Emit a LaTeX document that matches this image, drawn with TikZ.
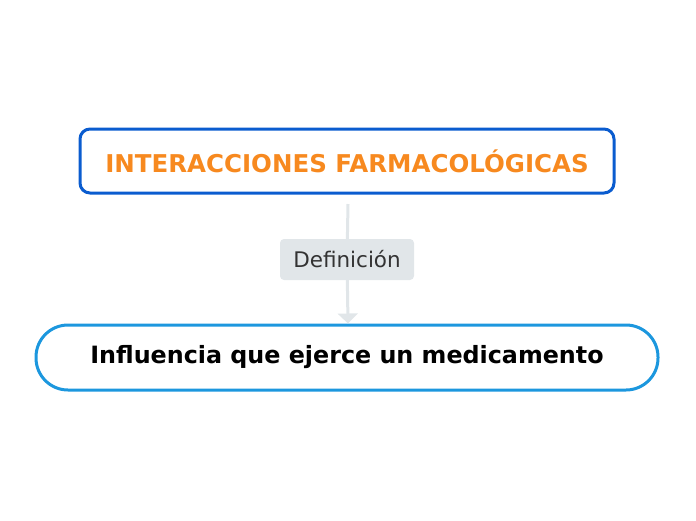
\documentclass[tikz,border=0pt]{standalone}
\usepackage{fontspec}
\setmainfont{DejaVu Sans}
\usetikzlibrary{positioning,arrows.meta}
\definecolor{topblue}{HTML}{0A5CCF}
\definecolor{subblue}{HTML}{1C97DE}
\definecolor{titleorange}{HTML}{F7891F}
\definecolor{linkgray}{HTML}{E1E6E9}
\definecolor{labeltext}{HTML}{333333}
\begin{document}
\begin{tikzpicture}[x=1pt,y=-1pt]
\tikzset{topic/.style={draw=topblue, line width=3pt, rectangle, rounded corners=10pt,
  minimum width=534pt, minimum height=64pt, font=\fontsize{24.5}{28}\selectfont\bfseries, text=titleorange},
  subtopic/.style={draw=subblue, line width=3pt, rectangle, rounded corners=32pt,
  minimum width=622pt, minimum height=65pt, font=\fontsize{23.8}{28}\selectfont\bfseries},
  linklabel/.style={fill=linkgray, rectangle, rounded corners=4pt, minimum width=134pt,
  minimum height=41pt, text=labeltext, font=\fontsize{21.5}{25}\selectfont}}

\useasboundingbox (0,0) rectangle (696,520);

% Main topic and sub topic
\node[topic] (inter) at (347,161) {INTERACCIONES FARMACOLÓGICAS};
\node[subtopic] (influ) at (347,357.5) {Influencia que ejerce un medicamento};

% Relation label
\node[linklabel] (defin) at (347,259.5) {Definición};

% Connections
\coordinate (start) at (348,204);
\draw[linkgray, line width=3pt] (start) -- (defin);
\draw[linkgray, line width=3pt, -{Triangle[width=20pt,length=10pt]}] (defin) -- (influ.north -| start);

\end{tikzpicture}
\end{document}
